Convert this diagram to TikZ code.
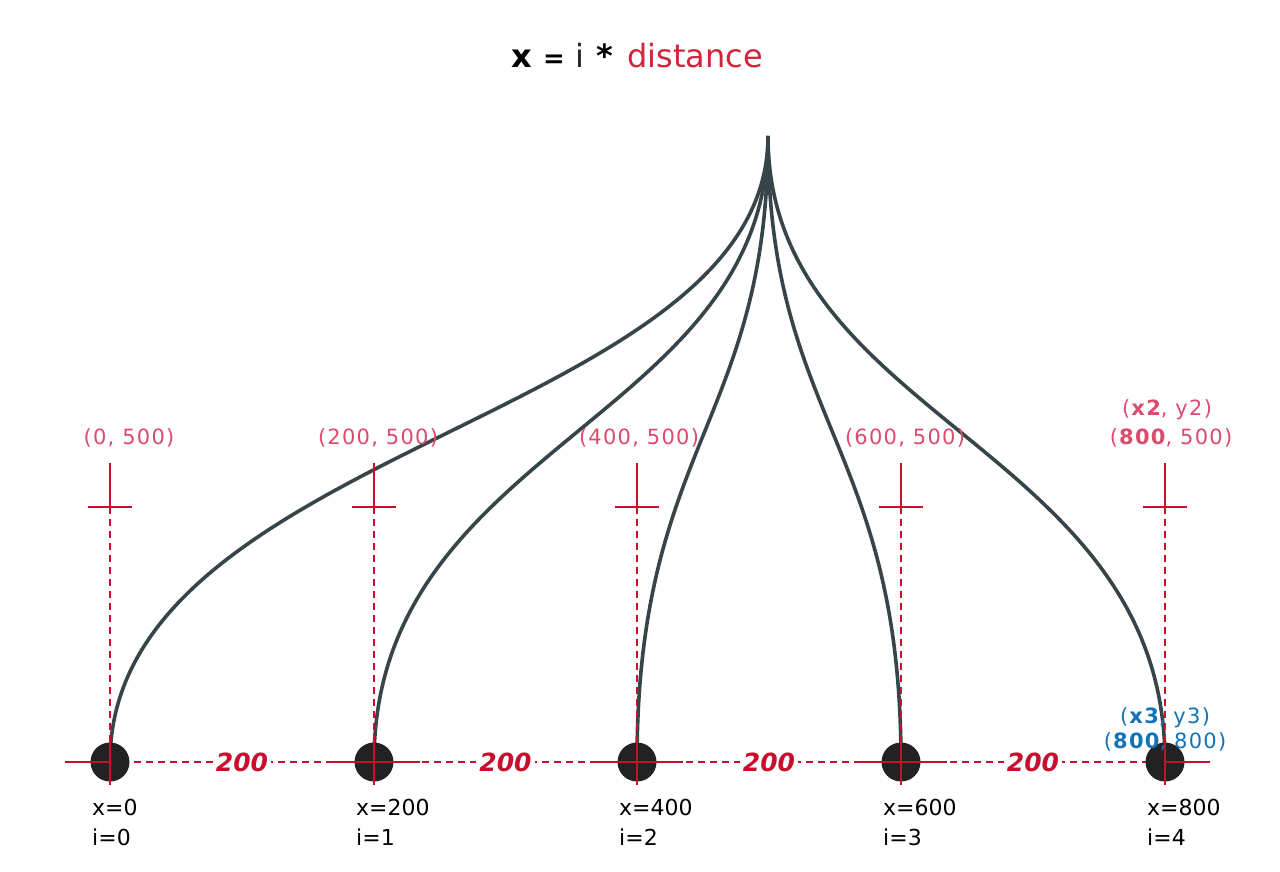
\documentclass[tikz,border=0pt]{standalone}
\usepackage{fontspec}
\setmainfont{DejaVu Sans}
\newfontfamily\widefont[LetterSpace=6]{DejaVu Sans}
\usetikzlibrary{calc}
\definecolor{crossred}{HTML}{C8102E}
\definecolor{lblpink}{HTML}{DC4A6E}
\definecolor{lblblue}{HTML}{1273B8}
\definecolor{curvecol}{HTML}{37454B}
\definecolor{dotcol}{HTML}{222222}
\definecolor{titlered}{HTML}{D0253A}
\begin{document}
\begin{tikzpicture}[x=1pt,y=-1pt,
  curve/.style={draw=curvecol,line width=3.6pt},
  guide/.style={draw=crossred,line width=2pt,dash pattern=on 7pt off 5pt},
  tick/.style={draw=crossred,line width=2.4pt},
  dotnode/.style={circle,fill=dotcol,minimum size=39pt,inner sep=0pt},
  ptlabel/.style={text=lblpink,inner sep=0pt,font=\widefont\fontsize{21}{23}\selectfont},
  endlabel/.style={text=lblblue,inner sep=0pt,font=\widefont\fontsize{21}{23}\selectfont},
  distlabel/.style={text=crossred,fill=white,inner sep=3pt,font=\fontsize{25}{27}\selectfont\bfseries\itshape},
  poslabel/.style={text=black,inner sep=0pt,anchor=base west,font=\fontsize{22}{24}\selectfont},
  titlepart/.style={inner sep=0pt,anchor=base,font=\fontsize{32}{34}\selectfont}
]
\useasboundingbox (0,0) rectangle (1280,872);

% title
\node[titlepart,font=\fontsize{32}{34}\selectfont\bfseries] (tx) at (522,68) {x};
\node[titlepart,font=\fontsize{26}{28}\selectfont\bfseries] (teq) at (554,68) {=};
\node[titlepart,text=black!85] (ti) at (580,68) {i};
\node[titlepart,font=\fontsize{32}{34}\selectfont\bfseries] (tstar) at (605,68) {*};
\node[titlepart,text=titlered] (tdist) at (695,68) {distance};

% geometry
\coordinate (top) at (768,136);
\foreach \i/\x in {0/110,1/374,2/637,3/901,4/1165} {
  \coordinate (c\i) at (\x,507);
  \coordinate (p\i) at (\x,762);
}

% curves
\foreach \i in {0,...,4} {
  \draw[curve] (top) .. controls ($(top)+(0,285)$) and ($(p\i)+(0,-317)$) .. (p\i);
}

% dashed guides
\draw[guide] (p0) -- (p4);
\foreach \i in {0,...,4} {
  \draw[guide] (c\i) -- (p\i);
}

% dots
\foreach \i in {0,...,4} {
  \node[dotnode] (d\i) at (p\i) {};
}

% top ticks
\foreach \i in {0,...,4} {
  \draw[tick] ($(c\i)+(0,-44)$) -- (c\i);
  \draw[tick] ($(c\i)+(-22,0)$) -- ($(c\i)+(22,0)$);
}

% bottom crosses
\foreach \i in {0,...,4} {
  \draw[tick] ($(p\i)+(0,-21)$) -- ($(p\i)+(0,23)$);
}
\draw[tick] ($(p0)+(-45,0)$) -- (p0);
\foreach \i in {1,2,3} {
  \draw[tick] ($(p\i)+(-46,0)$) -- ($(p\i)+(46,0)$);
}
\draw[tick] (p4) -- ($(p4)+(45,0)$);

% distance labels
\node[distlabel] (dist01) at ($(p0)!0.5!(p1)$) {200};
\node[distlabel] (dist12) at ($(p1)!0.5!(p2)$) {200};
\node[distlabel] (dist23) at ($(p2)!0.5!(p3)$) {200};
\node[distlabel] (dist34) at ($(p3)!0.5!(p4)$) {200};

% control point labels
\node[ptlabel] (l0) at (129,438) {(0, 500)};
\node[ptlabel] (l1) at (378,438) {(200, 500)};
\node[ptlabel] (l2) at (639,438) {(400, 500)};
\node[ptlabel] (l3) at (905,438) {(600, 500)};
\node[ptlabel] (l4) at (1171,438) {(\textbf{800}, 500)};
\node[ptlabel] (l4b) at (1167,410) {(\textbf{x2}, y2)};

% end point labels
\node[endlabel] (e4b) at (1165,718) {(\textbf{x3}, y3)};
\node[endlabel] (e4) at (1165,742) {(\textbf{800}, 800)};

% bottom labels
\foreach \i/\x/\v in {0/110/0,1/374/200,2/637/400,3/901/600,4/1165/800} {
  \node[poslabel] (xl\i) at (\x-18,815) {x=\v};
  \node[poslabel] (il\i) at (\x-18,845) {i=\i};
}
\end{tikzpicture}
\end{document}
